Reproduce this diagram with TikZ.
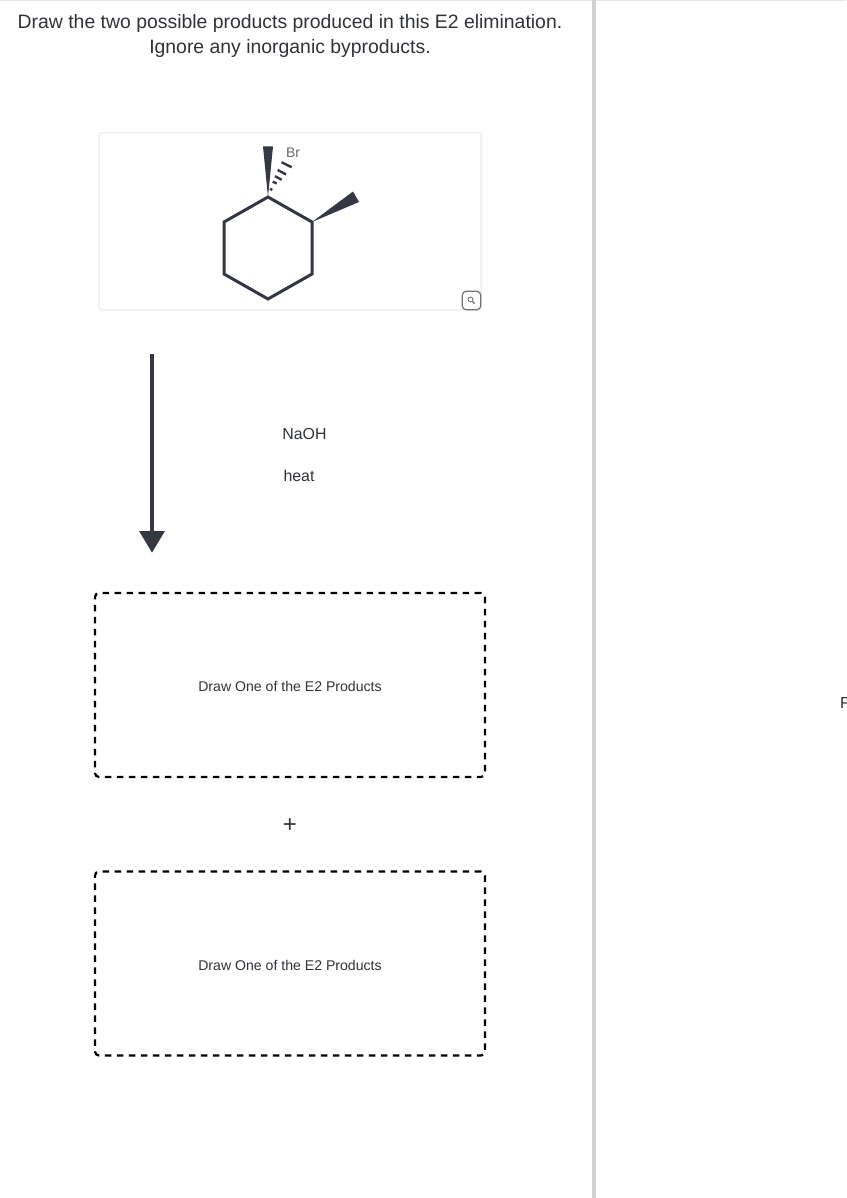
\documentclass[tikz,border=0pt]{standalone}
\usepackage{fontspec}
\setmainfont{Liberation Sans}
\definecolor{ink}{HTML}{343842}
\definecolor{txt}{HTML}{2F3338}
\definecolor{bar}{HTML}{D0D0D0}
\definecolor{frame}{HTML}{E6E6E6}
\tikzset{
  bond/.style={draw=ink,line width=3pt,line join=miter,line cap=round},
  wedge/.style={fill=ink,draw=none},
  hash/.style={draw=ink,line width=2.4pt},
  drop/.style={draw=black,line width=2.2pt,dash pattern=on 6.5pt off 5.5pt,rounded corners=4pt},
  body/.style={text=txt,font=\fontsize{15.9}{20}\selectfont,inner sep=0pt,anchor=base},
  prompt/.style={text=txt,font=\fontsize{14.1}{17}\selectfont,inner sep=0pt,anchor=base},
  title/.style={text=txt,font=\fontsize{19.4}{22}\selectfont,inner sep=0pt,anchor=base},
}
\begin{document}
\begin{tikzpicture}[x=1pt,y=-1pt]
\useasboundingbox (0,0) rectangle (846,1198);
\fill[white] (0,0) rectangle (846,1198);
\fill[frame] (0,0) rectangle (846,1.2);
\fill[bar] (592,0) rectangle (596,1198);
\node[title] (t1) at (290,28.8) {Draw the two possible products produced in this E2 elimination.};
\node[title] (t2) at (290,53.8) {Ignore any inorganic byproducts.};
% molecule frame
\node[draw=frame,line width=1pt,minimum width=382pt,minimum height=177pt,inner sep=0pt,rounded corners=1pt] (molframe) at (290,221.5) {};
% ring
\coordinate (a) at (268,197);
\coordinate (b) at (312,222);
\coordinate (c) at (312,274);
\coordinate (d) at (268,299);
\coordinate (e) at (224,274);
\coordinate (f) at (224,222);
\draw[bond] (a) -- (b) -- (c) -- (d) -- (e) -- (f) -- cycle;
% wedges
\coordinate (w1) at (263,146.5);
\coordinate (w2) at (273,146.5);
\coordinate (w3) at (353,191.5);
\coordinate (w4) at (359,202);
\fill[wedge] (a) -- (w1) -- (w2) -- cycle;
\fill[wedge] (b) -- (w3) -- (w4) -- cycle;
% hashed bond
\draw[hash] (270,188.7) -- (272.3,190);
\draw[hash] (272.7,181.7) -- (276.7,183.5);
\draw[hash] (275,176.2) -- (281.7,179.8);
\draw[hash] (277.7,170) -- (286,174.5);
\draw[hash] (281.7,162.3) -- (291.7,167.3);
\node[text=ink!75,font=\fontsize{14}{16}\selectfont,inner sep=0pt,anchor=base] (br) at (293,158) {Br};
% zoom button
\node[draw=black!55,line width=1.2pt,rounded corners=4pt,minimum width=18.5pt,minimum height=18.5pt,inner sep=0pt] (zoombtn) at (471.5,300.5) {};
\node[draw=black!60,circle,line width=.8pt,minimum size=5pt,inner sep=0pt] (lens) at (470.5,299.5) {};
\coordinate (lensend) at (474.5,303.5);
\draw[black!60,line width=1.2pt] (lens) -- (lensend);
% reaction arrow
\coordinate (ar1) at (152,354);
\coordinate (ar2) at (152,532);
\coordinate (h1) at (139,531);
\coordinate (h2) at (165,531);
\coordinate (h3) at (152,552.5);
\draw[draw=ink,line width=3.4pt] (ar1) -- (ar2);
\fill[ink] (h1) -- (h2) -- (h3) -- cycle;
\node[body] (naoh) at (304.5,439) {NaOH};
\node[body] (heat) at (299,481) {heat};
% drop boxes
\node[drop,minimum width=390pt,minimum height=184pt,inner sep=0pt] (box1) at (290,685) {};
\node[drop,minimum width=390pt,minimum height=184pt,inner sep=0pt] (box2) at (290,963.5) {};
\node[prompt] (p1) at (290,691) {Draw One of the E2 Products};
\node[prompt] (p2) at (290,970) {Draw One of the E2 Products};
\node[body,font=\fontsize{24}{26}\selectfont] (plus) at (290,832.5) {+};
% clipped letter at right edge
\begin{scope}
\clip (0,0) rectangle (846,1198);
\node[text=txt,font=\fontsize{16}{20}\selectfont,inner sep=0pt,anchor=base west] (edge) at (840,708) {F};
\end{scope}
\end{tikzpicture}
\end{document}
